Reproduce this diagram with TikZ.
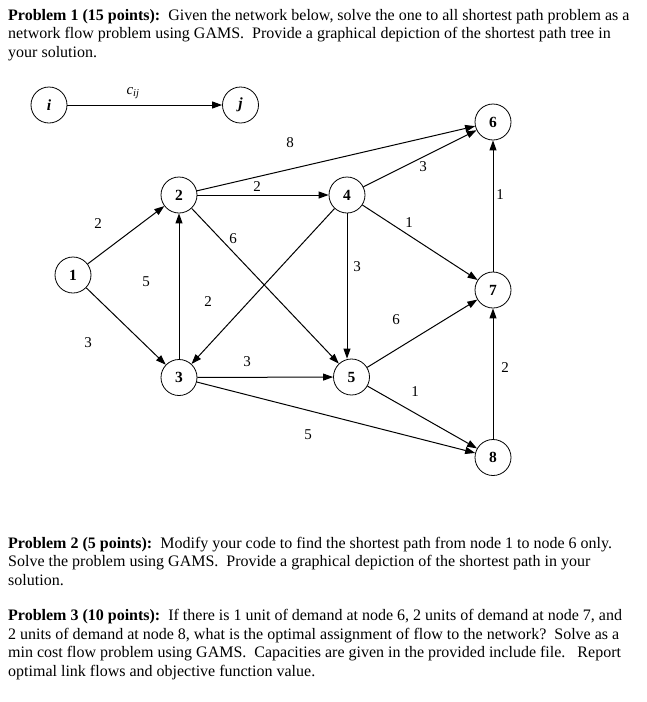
\documentclass[tikz,border=0pt]{standalone}
\usepackage{fontspec}
\setmainfont{Liberation Serif}
\usetikzlibrary{arrows.meta}
\begin{document}
\begin{tikzpicture}[x=1pt,y=-1pt,
  vert/.style={circle,draw,line width=0.8pt,minimum size=36pt,inner sep=0pt,font=\fontsize{15.5}{15.5}\selectfont\bfseries},
  arc/.style={draw,line width=1pt,-{Triangle[length=10pt,width=7pt]}},
  lab/.style={font=\fontsize{15}{15}\selectfont,inner sep=0pt},
  txt/.style={anchor=base west,inner sep=0pt,font=\fontsize{16}{18}\selectfont}]
\useasboundingbox (0,0) rectangle (647,702);
% texts
\node[txt] (t1) at (8,20) {\textbf{Problem 1 (15 points):}\ \ Given the network below, solve the one to all shortest path problem as a};
\node[txt] (t2) at (8,38.5) {network flow problem using GAMS.\ \ Provide a graphical depiction of the shortest path tree in};
\node[txt] (t3) at (8,57) {your solution.};
\node[txt] (t4) at (8,548) {\textbf{Problem 2 (5 points):}\ \ Modify your code to find the shortest path from node 1 to node 6 only.};
\node[txt] (t5) at (8,566.5) {Solve the problem using GAMS.\ \ Provide a graphical depiction of the shortest path in your};
\node[txt] (t6) at (8,585) {solution.};
\node[txt] (t7) at (8,620.5) {\textbf{Problem 3 (10 points):}\ \ If there is 1 unit of demand at node 6, 2 units of demand at node 7, and};
\node[txt] (t8) at (8,639) {2 units of demand at node 8, what is the optimal assignment of flow to the network?\ \ Solve as a};
\node[txt] (t9) at (8,657.5) {min cost flow problem using GAMS.\ \ Capacities are given in the provided include file.\ \ \ Report};
\node[txt] (t10) at (8,676) {optimal link flows and objective function value.};
% legend
\node[vert] (ni) at (49,105) {\textit{i}};
\node[vert] (nj) at (240.5,105) {\textit{j}};
\draw[arc] (ni) -- (nj);
\node[lab] (lc) at (133,93) {\textit{c\textsubscript{ij}}};
% network nodes
\node[vert] (n1) at (73,275) {1};
\node[vert] (n2) at (179,195) {2};
\node[vert] (n3) at (179,377.5) {3};
\node[vert] (n4) at (347,195) {4};
\node[vert] (n5) at (351.5,377) {5};
\node[vert] (n6) at (493,122) {6};
\node[vert] (n7) at (493,290) {7};
\node[vert] (n8) at (493,457.5) {8};
% arcs
\draw[arc] (n1) -- (n2);
\draw[arc] (n1) -- (n3);
\draw[arc] (n3) -- (n2);
\draw[arc] (n2) -- (n4);
\draw[arc] (n2) -- (n5);
\draw[arc] (n4) -- (n3);
\draw[arc] (n3) -- (n5);
\draw[arc] (n4.south) -- (n4.south |- n5.north);
\draw[arc] (n2) -- (n6);
\draw[arc] (n4) -- (n6);
\draw[arc] (n4) -- (n7);
\draw[arc] (n5) -- (n7);
\draw[arc] (n5) -- (n8);
\draw[arc] (n3) -- (n8);
\draw[arc] (n7) -- (n6);
\draw[arc] (n8) -- (n7);
% arc labels
\node[lab] (l12) at (98,224) {2};
\node[lab] (l13) at (88,343) {3};
\node[lab] (l32) at (146,282) {5};
\node[lab] (l43) at (208,302) {2};
\node[lab] (l25) at (233,239) {6};
\node[lab] (l24) at (257,187) {2};
\node[lab] (l35) at (247,362) {3};
\node[lab] (l45) at (357,267) {3};
\node[lab] (l26) at (290,143) {8};
\node[lab] (l46) at (423,167) {3};
\node[lab] (l47) at (409,223) {1};
\node[lab] (l76) at (500,195) {1};
\node[lab] (l57) at (396,320) {6};
\node[lab] (l58) at (415,392) {1};
\node[lab] (l87) at (505,368) {2};
\node[lab] (l38) at (308,435) {5};
\end{tikzpicture}
\end{document}
